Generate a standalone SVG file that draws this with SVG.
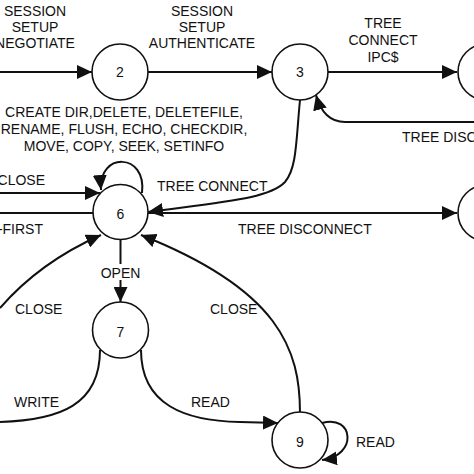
<svg xmlns="http://www.w3.org/2000/svg" width="474" height="474" viewBox="0 0 474 474">
<style>
.n{fill:#fff;stroke:#111;stroke-width:1.6}
.e{fill:none;stroke:#111;stroke-width:2}
.a{marker-end:url(#ah)}
text{font-family:"Liberation Sans",Arial,sans-serif;font-size:14px;fill:#111}
.c{text-anchor:middle}
</style>
<defs>
<marker id="ah" markerUnits="userSpaceOnUse" markerWidth="16" markerHeight="14" refX="15" refY="7" orient="auto">
<path d="M0,0 L15,7 L0,14 Z" fill="#111"/>
</marker>
</defs>
<rect width="474" height="474" fill="#fff"/>
<g id="connectors">
<path class="e a" d="M0,72 L92,72"/>
<path class="e a" d="M148,72 L272,72"/>
<path class="e a" d="M328,72 L457,72"/>
<path class="e a" d="M474,122 L345,122 C331,122 321,113 316,95"/>
<path class="e a" d="M300,100 C296,140 297,168 285,182 C270,198 230,201 148,212"/>
<path class="e a" d="M148,213 L457,213"/>
<path class="e a" d="M0,193 L100,193"/>
<path class="e" d="M93,213 L0,213"/>
<path class="e a" d="M142,193 C147,152 98,152 101,190"/>
<path class="e a" d="M120.5,240 L120.5,302"/>
<path class="e a" d="M0,308 Q40,262 101,235"/>
<path class="e a" d="M300,413 C300,350 280,290 141,235"/>
<path class="e" d="M100,350 C100,405 60,420 0,422"/>
<path class="e a" d="M141,350 C141,405 185,421 240,422 L278,423"/>
<path class="e a" d="M322,423 C354,414 358,456 322,460"/>
</g>
<g id="node2"><circle class="n" cx="120" cy="72" r="28"/><text class="c" x="120" y="77">2</text></g>
<g id="node3"><circle class="n" cx="300" cy="72" r="28"/><text class="c" x="300" y="77">3</text></g>
<g id="node4"><circle class="n" cx="486" cy="72" r="28"/></g>
<g id="node5"><circle class="n" cx="486" cy="213" r="28"/></g>
<g id="node6"><circle class="n" cx="120.5" cy="212" r="27.5"/><text class="c" x="120.5" y="219">6</text></g>
<g id="node7"><circle class="n" cx="120.5" cy="330" r="28"/><text class="c" x="120.5" y="337">7</text></g>
<g id="node9"><circle class="n" cx="300" cy="440" r="28"/><text class="c" x="300" y="447">9</text></g>
<g id="labels">
<text class="c" x="35" y="16">SESSION</text>
<text class="c" x="35" y="32">SETUP</text>
<text class="c" x="35" y="48">NEGOTIATE</text>
<text class="c" x="202" y="16">SESSION</text>
<text class="c" x="202" y="32">SETUP</text>
<text class="c" x="202" y="48">AUTHENTICATE</text>
<text class="c" x="383" y="28">TREE</text>
<text class="c" x="383" y="45">CONNECT</text>
<text class="c" x="383" y="62">IPC$</text>
<text x="402" y="142">TREE DISCONNECT</text>
<text class="c" x="124" y="117">CREATE DIR,DELETE, DELETEFILE,</text>
<text class="c" x="124" y="134">RENAME, FLUSH, ECHO, CHECKDIR,</text>
<text class="c" x="124" y="151">MOVE, COPY, SEEK, SETINFO</text>
<text text-anchor="end" x="45" y="185">CLOSE</text>
<text text-anchor="end" x="43" y="234">-FIRST</text>
<text x="157" y="191">TREE CONNECT</text>
<text x="238" y="234">TREE DISCONNECT</text>
<rect x="102" y="264" width="37" height="16" fill="#fff"/>
<text class="c" x="120.5" y="278">OPEN</text>
<text x="15" y="314">CLOSE</text>
<text x="210" y="314">CLOSE</text>
<text x="14" y="407">WRITE</text>
<text x="191" y="407">READ</text>
<text x="356" y="447">READ</text>
</g>
</svg>
